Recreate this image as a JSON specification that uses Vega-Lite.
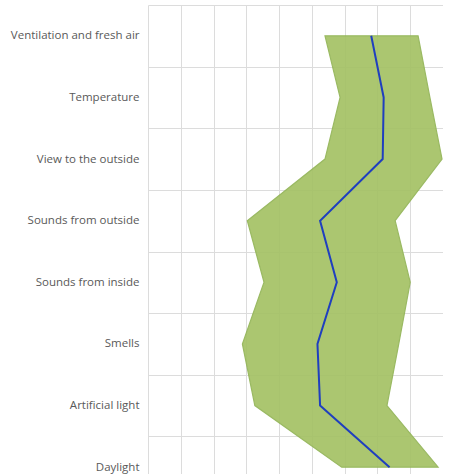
{
  "$schema": "https://vega.github.io/schema/vega-lite/v6.json",
  "autosize": {"type": "none"},
  "padding": {"left": 148, "top": 5, "right": 0, "bottom": 0},
  "width": 295,
  "height": 493,
  "background": "white",
  "config": {"view": {"stroke": null}},
  "data": {"values": [
    {"item": "Ventilation and fresh air", "lo": 5.40, "mean": 6.81, "hi": 8.24},
    {"item": "Temperature", "lo": 5.86, "mean": 7.19, "hi": 8.60},
    {"item": "View to the outside", "lo": 5.40, "mean": 7.16, "hi": 8.97},
    {"item": "Sounds from outside", "lo": 3.03, "mean": 5.25, "hi": 7.54},
    {"item": "Sounds from inside", "lo": 3.54, "mean": 5.76, "hi": 8.00},
    {"item": "Smells", "lo": 2.88, "mean": 5.17, "hi": 7.65},
    {"item": "Artificial light", "lo": 3.26, "mean": 5.25, "hi": 7.29},
    {"item": "Daylight", "lo": 5.91, "mean": 7.37, "hi": 8.85}
  ]},
  "encoding": {
    "y": {
      "field": "item", "type": "nominal",
      "sort": ["Ventilation and fresh air", "Temperature", "View to the outside", "Sounds from outside", "Sounds from inside", "Smells", "Artificial light", "Daylight"],
      "scale": {"type": "band", "paddingInner": 0, "paddingOuter": 0},
      "axis": {
        "title": null, "ticks": false, "domain": false, "tickBand": "extent",
        "grid": true, "gridColor": "#dcdcdc", "gridWidth": 1,
        "labelFont": "Open Sans", "labelFontSize": 11.5, "labelColor": "#595959",
        "labelPadding": 9
      }
    },
    "x": {"type": "quantitative",
      "scale": {"domain": [0, 9], "nice": false, "zero": false},
      "axis": {"title": null, "labels": false, "ticks": false, "domain": false, "grid": true, "gridColor": "#dcdcdc", "gridWidth": 1, "tickCount": 20, "values": [0,1,2,3,4,5,6,7,8,9]}}
  },
  "layer": [
    {
      "mark": {"type": "area", "orient": "horizontal", "color": "#a5c266", "opacity": 0.93, "stroke": "#93b557", "strokeWidth": 1.2},
      "encoding": {
        "x": {"field": "lo", "type": "quantitative"},
        "x2": {"field": "hi"}
      }
    },
    {
      "mark": {"type": "line", "color": "#1f3fbf", "strokeWidth": 2},
      "encoding": {
        "x": {"field": "mean", "type": "quantitative"}
      }
    }
  ]
}
